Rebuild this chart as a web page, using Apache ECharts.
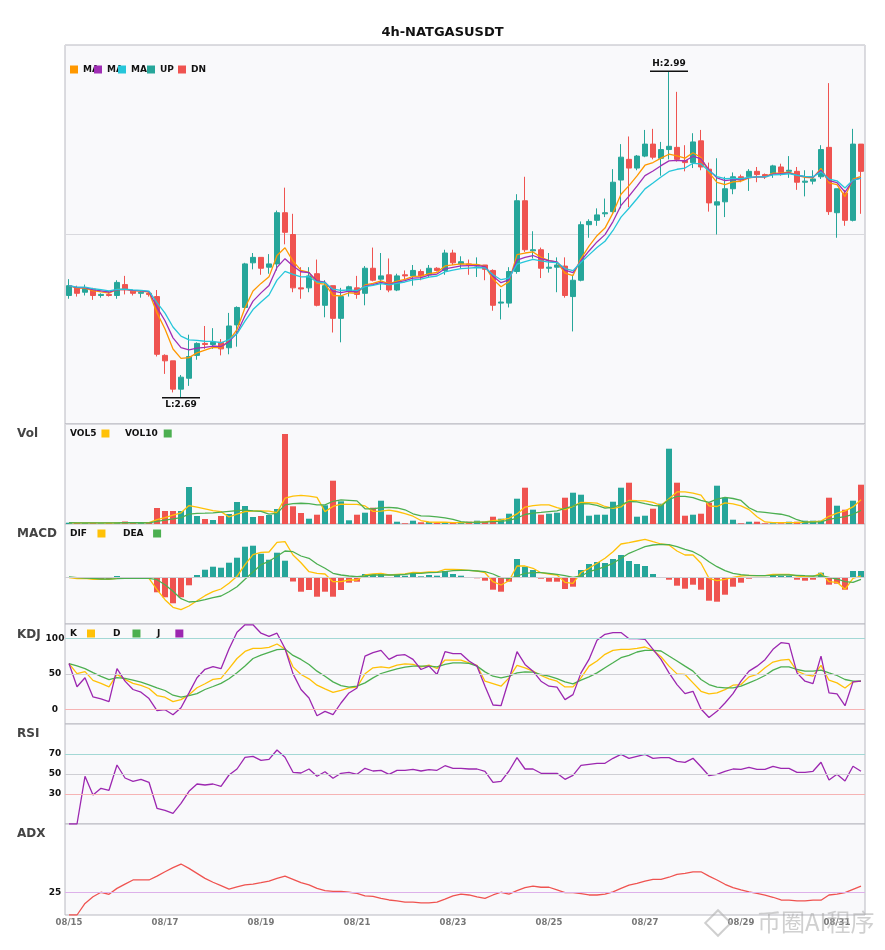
<!DOCTYPE html>
<html>
<head>
<meta charset="utf-8">
<title>4h-NATGASUSDT</title>
<script src="https://cdn.jsdelivr.net/npm/echarts@6/dist/echarts.min.js"></script>
<style>
  html, body { margin: 0; padding: 0; background: #fff; }
  #chart { width: 885px; height: 950px; }
</style>
</head>
<body>
<div id="chart"></div>
<script>
// 4h candles, 08/15 00:00 .. 08/31 12:00
const times = [];
for (let d = 15; d <= 31; d++) {
  for (const h of ['00', '04', '08', '12', '16', '20']) {
    if (times.length < 100) times.push('08/' + d + ' ' + h + ':00');
  }
}

const open = [
  2.784, 2.791, 2.787, 2.790, 2.784, 2.785, 2.784, 2.794, 2.788, 2.786,
  2.786, 2.783, 2.729, 2.724, 2.698, 2.708, 2.729, 2.740, 2.739, 2.741,
  2.736, 2.757, 2.773, 2.814, 2.819, 2.810, 2.813, 2.860, 2.840, 2.791,
  2.791, 2.804, 2.775, 2.793, 2.763, 2.788, 2.791, 2.786, 2.809, 2.799,
  2.803, 2.789, 2.803, 2.802, 2.806, 2.803, 2.809, 2.807, 2.823, 2.813,
  2.813, 2.811, 2.812, 2.807, 2.777, 2.777, 2.806, 2.871, 2.825, 2.826,
  2.809, 2.810, 2.811, 2.783, 2.798, 2.849, 2.853, 2.859, 2.861, 2.890,
  2.909, 2.901, 2.912, 2.923, 2.910, 2.918, 2.920, 2.908, 2.906, 2.926,
  2.900, 2.867, 2.870, 2.882, 2.893, 2.893, 2.898, 2.895, 2.896, 2.902,
  2.898, 2.898, 2.888, 2.889, 2.893, 2.920, 2.860, 2.878, 2.853, 2.923
];
const close = [
  2.793, 2.786, 2.791, 2.784, 2.785, 2.784, 2.796, 2.790, 2.786, 2.787,
  2.785, 2.730, 2.724, 2.698, 2.709, 2.728, 2.740, 2.739, 2.741, 2.735,
  2.756, 2.773, 2.813, 2.819, 2.809, 2.813, 2.860, 2.842, 2.791, 2.790,
  2.802, 2.775, 2.793, 2.763, 2.783, 2.792, 2.785, 2.809, 2.798, 2.802,
  2.789, 2.802, 2.802, 2.807, 2.802, 2.809, 2.807, 2.823, 2.814, 2.815,
  2.812, 2.812, 2.808, 2.775, 2.778, 2.806, 2.871, 2.826, 2.826, 2.809,
  2.810, 2.812, 2.784, 2.798, 2.849, 2.852, 2.858, 2.860, 2.888, 2.911,
  2.901, 2.912, 2.923, 2.911, 2.918, 2.921, 2.909, 2.906, 2.925, 2.902,
  2.869, 2.870, 2.882, 2.893, 2.890, 2.898, 2.895, 2.893, 2.903, 2.897,
  2.899, 2.888, 2.889, 2.891, 2.918, 2.861, 2.882, 2.853, 2.923, 2.898
];
const low = [
  2.781, 2.783, 2.784, 2.780, 2.782, 2.783, 2.781, 2.785, 2.784, 2.782,
  2.783, 2.728, 2.712, 2.695, 2.690, 2.701, 2.725, 2.735, 2.735, 2.729,
  2.730, 2.737, 2.771, 2.808, 2.803, 2.804, 2.807, 2.831, 2.787, 2.781,
  2.787, 2.774, 2.764, 2.750, 2.741, 2.783, 2.781, 2.775, 2.797, 2.789,
  2.787, 2.788, 2.798, 2.793, 2.798, 2.801, 2.806, 2.803, 2.812, 2.809,
  2.803, 2.801, 2.798, 2.770, 2.762, 2.773, 2.804, 2.824, 2.818, 2.800,
  2.805, 2.787, 2.782, 2.751, 2.797, 2.837, 2.848, 2.856, 2.860, 2.864,
  2.865, 2.899, 2.911, 2.909, 2.894, 2.909, 2.907, 2.898, 2.901, 2.899,
  2.861, 2.840, 2.856, 2.877, 2.888, 2.880, 2.888, 2.891, 2.892, 2.894,
  2.892, 2.881, 2.875, 2.886, 2.891, 2.858, 2.837, 2.848, 2.852, 2.859
];
const high = [
  2.799, 2.793, 2.794, 2.791, 2.786, 2.788, 2.798, 2.802, 2.789, 2.789,
  2.788, 2.789, 2.730, 2.724, 2.711, 2.748, 2.741, 2.756, 2.754, 2.744,
  2.768, 2.774, 2.814, 2.823, 2.819, 2.822, 2.862, 2.883, 2.859, 2.810,
  2.810, 2.817, 2.798, 2.793, 2.791, 2.793, 2.802, 2.811, 2.828, 2.823,
  2.818, 2.804, 2.807, 2.812, 2.808, 2.812, 2.810, 2.826, 2.826, 2.820,
  2.817, 2.819, 2.812, 2.808, 2.790, 2.810, 2.877, 2.893, 2.843, 2.828,
  2.823, 2.819, 2.819, 2.803, 2.852, 2.854, 2.864, 2.873, 2.900, 2.923,
  2.930, 2.913, 2.936, 2.937, 2.925, 2.990, 2.971, 2.922, 2.933, 2.936,
  2.906, 2.910, 2.893, 2.897, 2.895, 2.900, 2.902, 2.896, 2.904, 2.905,
  2.912, 2.902, 2.899, 2.899, 2.922, 2.979, 2.882, 2.881, 2.937, 2.923
];
// volume (thousand contracts)
const volume = [
  1.3, 1.0, 1.0, 1.2, 0.8, 1.0, 1.5, 2.5, 1.0, 1.0,
  1.2, 16.0, 13.0, 13.0, 13.0, 37.0, 8.0, 5.0, 4.0, 8.0,
  10.0, 22.0, 18.0, 7.0, 8.0, 9.0, 15.0, 90.0, 17.7, 11.0,
  5.3, 9.3, 18.7, 43.3, 22.7, 3.7, 9.3, 11.3, 16.3, 23.3,
  9.3, 2.3, 0.7, 3.3, 1.7, 2.0, 1.0, 1.0, 1.0, 1.7,
  2.3, 3.3, 2.3, 7.3, 5.3, 10.3, 25.3, 36.3, 14.3, 9.3,
  10.3, 11.3, 26.3, 31.3, 29.3, 8.3, 9.3, 9.3, 22.3, 36.3,
  41.3, 7.3, 8.3, 15.3, 20.3, 75.3, 41.3, 8.3, 9.3, 10.3,
  21.3, 38.3, 26.3, 4.3, 0.7, 2.3, 2.3, 0.7, 0.7, 0.7,
  2.3, 2.3, 3.3, 3.3, 3.3, 26.3, 18.3, 14.3, 23.3, 39.3
];
const dif = [
  -0.0007, -0.0017, -0.0013, -0.0023, -0.0023, -0.0023, -0.0013, -0.0007, -0.0013, -0.0013,
  -0.0013, -0.0127, -0.0227, -0.0303, -0.0327, -0.0290, -0.0237, -0.0187, -0.0147, -0.0120,
  -0.0063, 0.0007, 0.0123, 0.0223, 0.0247, 0.0250, 0.0347, 0.0353, 0.0220, 0.0143,
  0.0053, 0.0037, 0.0030, -0.0047, -0.0047, -0.0030, -0.0030, 0.0020, 0.0030, 0.0037,
  0.0020, 0.0027, 0.0030, 0.0047, 0.0043, 0.0050, 0.0050, 0.0077, 0.0077, 0.0073,
  0.0067, 0.0060, 0.0043, -0.0047, -0.0080, -0.0037, 0.0110, 0.0110, 0.0087, 0.0043,
  0.0030, 0.0020, -0.0053, -0.0063, 0.0045, 0.0087, 0.0137, 0.0187, 0.0253, 0.0330,
  0.0343, 0.0360, 0.0377, 0.0353, 0.0330, 0.0320, 0.0260, 0.0220, 0.0220, 0.0137,
  -0.0013, -0.0037, -0.0023, -0.0003, 0.0010, 0.0017, 0.0013, 0.0013, 0.0027, 0.0027,
  0.0027, 0.0010, 0.0003, 0.0003, 0.0040, -0.0047, -0.0053, -0.0123, -0.0013, 0.0010
];
const dea = [
  0.0000, -0.0007, -0.0010, -0.0013, -0.0020, -0.0020, -0.0017, -0.0013, -0.0013, -0.0013,
  -0.0013, -0.0027, -0.0077, -0.0143, -0.0217, -0.0250, -0.0243, -0.0227, -0.0207, -0.0190,
  -0.0147, -0.0097, -0.0023, 0.0050, 0.0123, 0.0157, 0.0207, 0.0260, 0.0253, 0.0210,
  0.0187, 0.0130, 0.0087, 0.0037, 0.0020, 0.0010, 0.0003, 0.0010, 0.0020, 0.0020,
  0.0020, 0.0020, 0.0027, 0.0037, 0.0037, 0.0043, 0.0047, 0.0053, 0.0063, 0.0067,
  0.0067, 0.0060, 0.0053, 0.0030, -0.0007, -0.0013, 0.0010, 0.0037, 0.0043, 0.0043,
  0.0037, 0.0027, 0.0013, -0.0003, 0.0010, 0.0053, 0.0077, 0.0103, 0.0137, 0.0187,
  0.0237, 0.0270, 0.0303, 0.0320, 0.0327, 0.0323, 0.0303, 0.0277, 0.0253, 0.0210,
  0.0153, 0.0103, 0.0063, 0.0037, 0.0023, 0.0017, 0.0013, 0.0013, 0.0017, 0.0020,
  0.0020, 0.0017, 0.0013, 0.0010, 0.0013, -0.0003, -0.0020, -0.0047, -0.0053, -0.0023
];
const macdHist = [
  0.0000, -0.0010, -0.0010, -0.0020, -0.0020, -0.0020, 0.0010, -0.0010, -0.0010, -0.0010,
  -0.0010, -0.0153, -0.0203, -0.0263, -0.0203, -0.0083, 0.0020, 0.0073, 0.0103, 0.0093,
  0.0143, 0.0193, 0.0303, 0.0313, 0.0233, 0.0173, 0.0243, 0.0163, -0.0045, -0.0147,
  -0.0130, -0.0197, -0.0147, -0.0197, -0.0130, -0.0057, -0.0047, 0.0030, 0.0030, 0.0033,
  -0.0007, 0.0020, 0.0013, 0.0033, 0.0007, 0.0020, 0.0013, 0.0060, 0.0030, 0.0013,
  -0.0007, -0.0013, -0.0037, -0.0127, -0.0147, -0.0047, 0.0180, 0.0103, 0.0070, -0.0017,
  -0.0047, -0.0047, -0.0120, -0.0097, 0.0070, 0.0130, 0.0150, 0.0140, 0.0180, 0.0220,
  0.0160, 0.0130, 0.0110, 0.0030, -0.0010, -0.0027, -0.0087, -0.0117, -0.0077, -0.0127,
  -0.0237, -0.0247, -0.0177, -0.0097, -0.0057, -0.0017, -0.0007, -0.0007, 0.0010, 0.0010,
  0.0010, -0.0027, -0.0037, -0.0027, 0.0043, -0.0077, -0.0067, -0.0127, 0.0060, 0.0060
];
const kLine = [
  64.6, 50.5, 53.3, 41.0, 36.8, 32.1, 49.5, 42.5, 36.8, 34.0,
  29.7, 19.8, 17.5, 11.3, 14.2, 20.8, 30.7, 36.3, 42.5, 43.9,
  57.5, 71.7, 81.6, 85.8, 85.8, 87.3, 92.0, 84.9, 60.0, 49.3,
  43.2, 34.3, 29.1, 24.4, 27.2, 30.5, 31.5, 50.2, 58.7, 60.1,
  58.7, 62.4, 64.3, 63.4, 60.1, 62.4, 57.7, 69.5, 69.5, 69.5,
  65.7, 62.0, 39.9, 36.6, 32.9, 44.6, 62.0, 58.7, 54.0, 47.9,
  43.2, 39.9, 31.9, 31.9, 44.6, 61.0, 68.1, 77.5, 83.1, 84.5,
  84.5, 85.9, 87.8, 83.1, 74.2, 61.0, 50.2, 49.3, 37.6, 25.8,
  22.1, 23.5, 28.2, 34.3, 35.2, 46.0, 49.3, 58.7, 66.7, 69.5,
  70.4, 54.0, 49.3, 46.9, 62.0, 41.3, 37.6, 30.5, 39.0, 39.9
];
const dLine = [
  64.6, 61.3, 57.5, 51.9, 46.7, 42.0, 44.8, 43.9, 41.5, 38.7,
  34.9, 30.7, 26.9, 20.3, 17.5, 19.8, 22.6, 28.3, 32.5, 36.8,
  43.4, 51.9, 61.3, 71.7, 76.4, 80.2, 84.0, 84.9, 76.0, 70.4,
  63.4, 54.0, 46.9, 39.0, 33.8, 31.5, 32.9, 37.6, 44.6, 50.7,
  54.0, 57.3, 59.6, 61.0, 61.0, 61.0, 60.1, 63.4, 65.7, 65.7,
  64.8, 61.0, 53.0, 46.9, 44.6, 46.9, 51.6, 53.1, 52.6, 49.3,
  46.9, 43.6, 39.0, 36.2, 41.3, 46.0, 51.6, 58.7, 65.7, 72.8,
  76.1, 80.8, 83.1, 83.1, 82.2, 75.1, 68.1, 61.0, 54.0, 42.3,
  35.2, 31.5, 30.5, 30.5, 32.9, 37.6, 42.3, 47.9, 55.4, 60.1,
  60.1, 56.3, 54.0, 54.0, 55.4, 51.6, 47.9, 42.3, 39.9, 39.9
];
const jLine = [
  64.6, 32.1, 44.8, 17.9, 15.1, 11.3, 57.5, 40.0, 28.3, 24.5,
  15.6, -1.4, 0.0, -7.1, 2.8, 23.6, 44.8, 56.6, 60.4, 57.5,
  84.9, 108.5, 118.9, 118.9, 107.1, 102.8, 107.1, 85.8, 50.5, 28.2,
  16.4, -8.5, -2.3, -7.0, 9.4, 23.5, 30.5, 75.1, 79.8, 83.1,
  70.4, 76.1, 77.0, 70.4, 56.3, 61.0, 49.3, 81.2, 78.4, 78.4,
  68.1, 61.0, 32.9, 6.6, 5.6, 42.3, 81.2, 63.4, 54.0, 39.9,
  32.9, 31.5, 14.1, 21.1, 51.6, 70.4, 97.2, 105.6, 108.0, 108.0,
  99.5, 99.5, 98.6, 84.5, 70.4, 51.6, 35.2, 22.5, 25.8, 0.9,
  -10.8, -2.3, 9.4, 22.5, 40.0, 54.0, 61.0, 70.0, 84.5, 93.9,
  92.5, 51.6, 39.9, 36.6, 75.1, 23.5, 22.1, 5.6, 39.0, 39.9
];
const rsi = [
  0, 0, 47.7, 29.0, 35.7, 33.7, 59.0, 46.0, 42.7, 44.7,
  41.7, 15.7, 13.7, 10.7, 20.7, 32.7, 40.0, 39.0, 40.0, 37.7,
  49.0, 55.0, 66.7, 67.7, 63.7, 64.7, 74.0, 66.7, 51.7, 51.0,
  55.0, 47.7, 52.3, 45.7, 50.7, 51.7, 49.7, 55.7, 53.0, 53.7,
  49.7, 53.7, 53.7, 54.7, 53.0, 54.3, 53.7, 58.3, 55.7, 55.7,
  55.0, 55.0, 52.7, 41.7, 42.7, 53.0, 66.3, 55.0, 55.0, 50.7,
  50.7, 50.7, 44.7, 48.7, 58.7, 59.7, 60.7, 60.7, 65.7, 69.7,
  65.7, 67.7, 69.7, 65.7, 66.3, 66.3, 62.7, 61.7, 65.7, 57.3,
  48.3, 49.7, 52.7, 55.0, 54.7, 56.7, 54.7, 54.7, 57.7, 55.7,
  55.7, 51.7, 51.7, 52.7, 61.7, 44.0, 49.7, 43.0, 57.7, 52.7
];
const adx = [
  15.0, 15.0, 20.1, 23.0, 25.0, 24.1, 26.7, 28.6, 30.4, 30.4,
  30.4, 32.1, 34.0, 35.8, 37.4, 35.5, 33.3, 31.1, 29.4, 27.9,
  26.4, 27.4, 28.2, 28.6, 29.2, 29.9, 31.1, 32.1, 30.7, 29.2,
  28.2, 26.7, 25.7, 25.4, 25.4, 25.0, 24.5, 23.4, 23.2, 22.3,
  21.6, 21.2, 20.7, 20.7, 20.3, 20.3, 20.7, 22.0, 23.4, 24.2,
  23.8, 23.0, 22.3, 23.8, 25.0, 24.2, 25.7, 27.0, 27.7, 27.2,
  27.2, 26.0, 24.8, 24.8, 24.4, 23.8, 23.8, 24.2, 25.2, 26.7,
  28.1, 28.9, 29.9, 30.7, 30.7, 31.6, 32.9, 33.3, 34.0, 34.0,
  32.1, 30.4, 28.5, 27.0, 26.0, 25.2, 24.5, 23.7, 22.8, 21.6,
  21.5, 21.2, 21.2, 21.5, 21.5, 23.8, 24.2, 24.8, 26.3, 27.7
];

const UP = '#26a69a', DN = '#ef5350';
const FONT = 'DejaVu Sans';

// moving averages of the plotted closes / volumes
function ema(src, n) {
  const k = 2 / (n + 1), out = [];
  src.forEach((v, i) => out.push(i ? +(out[i - 1] + k * (v - out[i - 1])).toFixed(4) : v));
  return out;
}
function sma(src, n) {
  return src.map((v, i) => {
    const w = src.slice(Math.max(0, i - n + 1), i + 1);
    return +(w.reduce((a, b) => a + b, 0) / w.length).toFixed(2);
  });
}

const candles = open.map((o, i) => [o, close[i], low[i], high[i]]);
const volUp = volume.map((v, i) => close[i] >= open[i] ? v : '-');
const volDn = volume.map((v, i) => close[i] < open[i] ? v : '-');
const hiVal = Math.max(...high), hiIdx = high.indexOf(hiVal);
const loVal = Math.min(...low), loIdx = low.indexOf(loVal);

const chart = echarts.init(document.getElementById('chart'));

const gridTops = [45, 424, 524, 624, 724, 824];
const gridHeights = [379, 100, 100, 100, 100, 91];
const grid = gridTops.map((t, i) => ({
  left: 65, right: 20, top: t, height: gridHeights[i],
  show: true, backgroundColor: '#f9f9fb', borderColor: '#b9b9c1', borderWidth: 1
}));

const xAxis = gridTops.map((t, i) => ({
  type: 'category', gridIndex: i, data: times, boundaryGap: true,
  axisLine: { show: false }, axisTick: { show: false }, splitLine: { show: false },
  axisLabel: {
    show: i === 5, interval: 11, formatter: v => v.slice(0, 5),
    color: '#777', fontWeight: 'bold', fontSize: 8.5, margin: 3, fontFamily: FONT
  }
}));

const sideLabel = (keep) => ({
  color: '#111', fontWeight: 'bold', fontSize: 9, align: 'center', margin: 10, fontFamily: FONT,
  formatter: v => keep.includes(v) ? String(v) : ''
});
const bare = { axisLine: { show: false }, axisTick: { show: false } };

const yAxis = [
  Object.assign({ gridIndex: 0, min: 2.666, max: 3.014, interval: 0.174, axisLabel: { show: false },
    splitLine: { lineStyle: { color: '#d9d9de' } } }, bare),
  Object.assign({ gridIndex: 1, min: 0, max: 100, axisLabel: { show: false }, splitLine: { show: false } }, bare),
  Object.assign({ gridIndex: 2, min: -0.047, max: 0.053, axisLabel: { show: false }, splitLine: { show: false } }, bare),
  Object.assign({ gridIndex: 3, min: -20, max: 120, interval: 10, axisLabel: sideLabel([0, 50, 100]), splitLine: { show: false } }, bare),
  Object.assign({ gridIndex: 4, min: 0, max: 100, interval: 10, axisLabel: sideLabel([30, 50, 70]), splitLine: { show: false } }, bare),
  Object.assign({ gridIndex: 5, min: 15, max: 55, interval: 5, axisLabel: sideLabel([25]), splitLine: { show: false } }, bare)
];

const refLines = (items) => ({
  silent: true, symbol: 'none', label: { show: false }, animation: false,
  data: items.map(([v, c]) => ({ yAxis: v, lineStyle: { color: c, type: 'solid', width: 1 } }))
});
const TEAL_REF = '#a3d8d5', GRAY_REF = '#cfcfd4', PINK_REF = '#f6b4b4';

const line = (name, data, color, ax, extra) => Object.assign({
  name, type: 'line', data, xAxisIndex: ax, yAxisIndex: ax,
  showSymbol: false, symbol: 'none', lineStyle: { color, width: 1.3 }, itemStyle: { color }, z: 3
}, extra || {});

const series = [
  {
    name: 'NATGASUSDT', type: 'candlestick', data: candles, xAxisIndex: 0, yAxisIndex: 0, barWidth: 6,
    itemStyle: { color: UP, color0: DN, borderColor: UP, borderColor0: DN, borderWidth: 1 },
    markPoint: {
      symbol: 'rect', symbolSize: [38, 1.5], itemStyle: { color: '#111' }, animation: false,
      label: { color: '#111', fontWeight: 'bold', fontSize: 9, fontFamily: FONT, distance: 2 },
      data: [
        { coord: [times[hiIdx], hiVal], label: { position: 'top', formatter: 'H:' + hiVal.toFixed(2) } },
        { coord: [times[loIdx], loVal], label: { position: 'bottom', formatter: 'L:' + loVal.toFixed(2) } }
      ]
    }
  },
  line('MA5', ema(close, 5), '#ff9800', 0),
  line('MA7', ema(close, 7), '#a02fb5', 0),
  line('MA10', ema(close, 10), '#26c6da', 0),

  { name: 'UP', type: 'bar', data: volUp, xAxisIndex: 1, yAxisIndex: 1, barWidth: 6, barGap: '-100%', itemStyle: { color: UP } },
  { name: 'DN', type: 'bar', data: volDn, xAxisIndex: 1, yAxisIndex: 1, barWidth: 6, barGap: '-100%', itemStyle: { color: DN } },
  line('VOL5', sma(volume, 5), '#ffc107', 1),
  line('VOL10', sma(volume, 10), '#4caf50', 1),

  {
    name: 'MACD', type: 'bar', data: macdHist, xAxisIndex: 2, yAxisIndex: 2, barWidth: 6,
    itemStyle: { color: p => p.value >= 0 ? UP : DN },
    markLine: refLines([[0, GRAY_REF]])
  },
  line('DIF', dif, '#ffc107', 2),
  line('DEA', dea, '#4caf50', 2),

  line('K', kLine, '#ffc107', 3, { markLine: refLines([[100, TEAL_REF], [50, GRAY_REF], [0, PINK_REF]]) }),
  line('D', dLine, '#4caf50', 3),
  line('J', jLine, '#9c27b0', 3),

  line('RSI', rsi, '#9c27b0', 4, { markLine: refLines([[70, TEAL_REF], [50, GRAY_REF], [30, PINK_REF]]) }),
  line('ADX', adx, '#ef5350', 5, { markLine: refLines([[25, '#ddb1ea']]) })
];

const legendText = (pad) => ({ fontSize: 9, fontWeight: 'bold', color: '#111', fontFamily: FONT, padding: [0, pad, 0, 0] });
const legendItem = (name, left, top, align, pad, label) => ({
  data: [name], left, top, align, padding: 0, itemGap: 0, itemWidth: 8, itemHeight: 8,
  icon: 'rect', selectedMode: false, textStyle: legendText(pad),
  formatter: label || '{name}'
});

const legend = [
  legendItem('MA5', 70, 65, 'left', 0, 'MA'),
  legendItem('MA7', 94, 65, 'left', 0, 'MA'),
  legendItem('MA10', 118, 65, 'left', 0, 'MA'),
  legendItem('UP', 147, 65, 'left', 0),
  legendItem('DN', 178, 65, 'left', 0),
  legendItem('VOL5', 70, 429, 'right', 0),
  legendItem('VOL10', 125, 429, 'right', 1),
  legendItem('DIF', 70, 529, 'right', 5.5),
  legendItem('DEA', 123, 529, 'right', 4.5),
  legendItem('K', 70, 629, 'right', 5),
  legendItem('D', 113, 629, 'right', 7),
  legendItem('J', 157, 629, 'right', 10)
];

const panelTitle = (text, top) => ({
  text, left: 17, top, padding: 0,
  textStyle: { fontSize: 12, fontWeight: 'bold', color: '#444', fontFamily: FONT }
});

chart.setOption({
  animation: false,
  backgroundColor: '#ffffff',
  textStyle: { fontFamily: FONT },
  title: [
    { text: '4h-NATGASUSDT', left: 'center', top: 26, padding: 0,
      textStyle: { fontSize: 13, fontWeight: 'bold', color: '#111', fontFamily: FONT } },
    panelTitle('Vol', 428),
    panelTitle('MACD', 528),
    panelTitle('KDJ', 629),
    panelTitle('RSI', 728),
    panelTitle('ADX', 828)
  ],
  legend,
  grid,
  xAxis,
  yAxis,
  series,
  graphic: [
    { type: 'rect', x: 718, y: 923, rotation: Math.PI / 4, z: 100, silent: true,
      shape: { x: -9, y: -9, width: 18, height: 18 },
      style: { fill: 'none', stroke: 'rgba(175,175,175,0.6)', lineWidth: 2 } },
    { type: 'text', left: 757, top: 910, z: 100, silent: true,
      style: { text: '币圈AI程序', font: '24px "Noto Sans CJK SC"', fill: 'rgba(170,170,170,0.55)' } }
  ]
});
</script>
</body>
</html>
